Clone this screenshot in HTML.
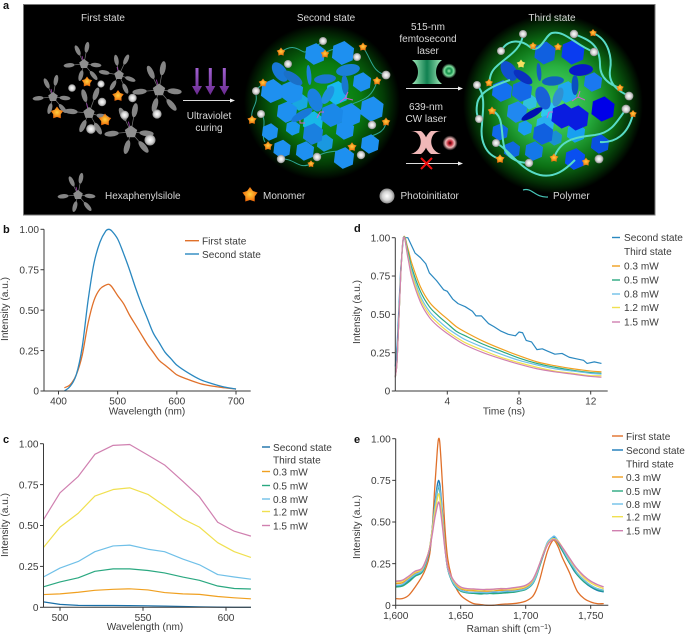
<!DOCTYPE html>
<html lang="en">
<head>
<meta charset="utf-8">
<title>Hexaphenylsilole photopolymerization figure</title>
<style>
html,body{margin:0;padding:0;background:#fff;width:685px;height:634px;overflow:hidden}
svg{display:block;font-family:"Liberation Sans",Arial,sans-serif}
.ct{font-size:10.1px;fill:#3a3a3a}
.ill{font-size:10px;fill:#d8d8d8}
.lab{font-size:11px;font-weight:bold;fill:#111}
</style>
</head>
<body>
<svg id="fig" xmlns="http://www.w3.org/2000/svg" width="685" height="634" viewBox="0 0 685 634">
<defs>
<radialGradient id="glow2"><stop offset="0" stop-color="#12a020"/><stop offset=".5" stop-color="#0a7a10"/><stop offset=".8" stop-color="#033a05"/><stop offset="1" stop-color="#000"/></radialGradient>
<radialGradient id="glow3"><stop offset="0" stop-color="#50e070"/><stop offset=".42" stop-color="#28b040"/><stop offset=".7" stop-color="#0c7014"/><stop offset=".9" stop-color="#032a05"/><stop offset="1" stop-color="#000"/></radialGradient>
<radialGradient id="ball"><stop offset="0" stop-color="#fff"/><stop offset=".6" stop-color="#d4d4d4"/><stop offset="1" stop-color="#8a8a8a"/></radialGradient>
<radialGradient id="starfill"><stop offset="0" stop-color="#ffd040"/><stop offset="1" stop-color="#f06a08"/></radialGradient>
<linearGradient id="uvfill" x1="0" y1="0" x2="0" y2="1"><stop offset="0" stop-color="#a060d0"/><stop offset="1" stop-color="#6a2a90"/></linearGradient>
<radialGradient id="greenring"><stop offset="0" stop-color="#a0e8b0"/><stop offset=".35" stop-color="#109048"/><stop offset=".65" stop-color="#80e0a0"/><stop offset="1" stop-color="#000"/></radialGradient>
<radialGradient id="redring"><stop offset="0" stop-color="#300"/><stop offset=".25" stop-color="#c02030"/><stop offset=".6" stop-color="#f0b8b8"/><stop offset="1" stop-color="#000"/></radialGradient>
<linearGradient id="greenbeam" x1="0" y1="0" x2="1" y2="0"><stop offset="0" stop-color="#a0e8b8"/><stop offset=".5" stop-color="#108050"/><stop offset="1" stop-color="#a0e8b8"/></linearGradient>
</defs>

<rect width="685" height="634" fill="#fff"/>

<g id="panel-a">
  <rect x="23.5" y="4.5" width="631.5" height="210.5" fill="#000" stroke="#777" stroke-width="1"/>
  <circle cx="322" cy="102" r="78" fill="url(#glow2)"/>
  <circle cx="553" cy="104" r="90" fill="url(#glow3)"/>
  <g id="mols"></g>
  <g id="second-poly" fill="none" stroke="#2fa898" stroke-width="1">
    <path d="M281,52 C295,42 300,52 305,52 C312,50 318,45 323,41"/><path d="M325,54 C328,50 335,48 340,50"/><path d="M363,47 C372,60 372,72 386,75"/><path d="M377,81 C372,100 360,100 350,105"/><path d="M263,83 C260,88 256,88 256,91"/><path d="M256,95 C258,105 250,108 252,120"/><path d="M261,114 C268,120 260,135 265,142"/><path d="M386,122 C385,135 370,135 362,140"/><path d="M281,159 C295,158 298,170 311,164"/><path d="M317,157 C325,150 340,152 345,150"/>
  </g>
  <g id="second-hex"></g>
  <g id="third-hex"></g>
  <g id="third-poly" fill="none" stroke="#58dcc8" stroke-width="2">
    <path d="M523,34 C522,50 505,58 497,66 C490,72 490,78 489,84"/><path d="M501,51 C508,38 522,40 530,47 C540,55 545,35 552,33 C565,30 575,45 594,52"/><path d="M593,33 C610,40 612,60 610,70 C608,85 620,92 629,96"/><path d="M574,34 C590,40 600,45 600,65 C600,78 610,85 620,88"/><path d="M477,85 C487,95 482,115 482,125 C480,140 485,155 500,159"/><path d="M510,80 C495,85 478,92 477,105 C476,112 477,116 479,119"/><path d="M492,111 C505,115 500,135 505,150 C510,160 520,163 529,163"/><path d="M496,143 C510,150 520,170 540,175 C555,178 565,170 575,160"/><path d="M554,158 C560,140 575,137 595,135 C610,133 615,125 626,109"/><path d="M600,142 C615,143 628,135 633,114"/>
  </g>
  <g id="balls"></g>
  <g id="stars"></g>

  <g fill="url(#uvfill)">
    <path d="M195.5,68 h3 v18 h3.5 l-5,9 l-5,-9 h3.5 z"/><path d="M208.8,68 h3 v18 h3.5 l-5,9 l-5,-9 h3.5 z"/><path d="M222.8,68 h3 v18 h3.5 l-5,9 l-5,-9 h3.5 z"/>
  </g>
  <g stroke="#ddd" stroke-width="1" fill="#eee">
    <path d="M183,100.5 H231"/><path d="M235,100.5 l-5,-2 v4 z" stroke="none"/>
    <path d="M406,88.5 H458"/><path d="M463,88.5 l-5,-2 v4 z" stroke="none"/>
    <path d="M406,163.5 H458"/><path d="M463,163.5 l-5,-2 v4 z" stroke="none"/>
  </g>
  <path d="M412,60 H442 C434,66 434,78 442,84 H412 C420,78 420,66 412,60 Z" fill="url(#greenbeam)"/>
  <circle cx="449" cy="71" r="7.5" fill="url(#greenring)"/>
  <path d="M411,131 C423,131 425,150 411,154 H421 C429,148 429,137 421,131 Z" fill="#f0b8b8"/>
  <path d="M441,131 C429,131 427,150 441,154 H431 C423,148 423,137 431,131 Z" fill="#f0b8b8"/>
  <circle cx="450" cy="143" r="7.5" fill="url(#redring)"/>
  <path d="M421,158 L432,169 M432,158 L421,169" stroke="#f01010" stroke-width="2" fill="none"/>
  <path d="M523,190 C532,187 535,198 548,197" fill="none" stroke="#48c8b8" stroke-width="1.2"/>

  <text class="ill" x="103" y="21" text-anchor="middle">First state</text>
  <text class="ill" x="326" y="21" text-anchor="middle">Second state</text>
  <text class="ill" x="552" y="21" text-anchor="middle">Third state</text>
  <text class="ill" x="209" y="119" text-anchor="middle">Ultraviolet</text>
  <text class="ill" x="209" y="131" text-anchor="middle">curing</text>
  <text class="ill" x="428" y="30" text-anchor="middle">515-nm</text>
  <text class="ill" x="428" y="42" text-anchor="middle">femtosecond</text>
  <text class="ill" x="428" y="54" text-anchor="middle">laser</text>
  <text class="ill" x="426" y="110" text-anchor="middle">639-nm</text>
  <text class="ill" x="426" y="122" text-anchor="middle">CW laser</text>
  <text class="ill" x="105" y="199">Hexaphenylsilole</text>
  <text class="ill" x="263" y="199">Monomer</text>
  <text class="ill" x="400.5" y="199">Photoinitiator</text>
  <text class="ill" x="553" y="199">Polymer</text>
</g>

<text class="lab" x="3" y="9">a</text>
<text class="lab" x="3" y="233">b</text>
<text class="lab" x="3" y="443">c</text>
<text class="lab" x="354" y="232">d</text>
<text class="lab" x="354" y="443">e</text>

<g id="chart-b"></g>
<g id="chart-c"></g>
<g id="chart-d"></g>
<g id="chart-e"></g>

<text class="ct" x="147" y="414.5" text-anchor="middle">Wavelength (nm)</text>
<text class="ct" transform="translate(8,309) rotate(-90)" text-anchor="middle">Intensity (a.u.)</text>
<text class="ct" x="145" y="630" text-anchor="middle">Wavelength (nm)</text>
<text class="ct" transform="translate(8,525) rotate(-90)" text-anchor="middle">Intensity (a.u.)</text>
<text class="ct" x="504" y="414.5" text-anchor="middle">Time (ns)</text>
<text class="ct" transform="translate(360,312) rotate(-90)" text-anchor="middle">Intensity (a.u.)</text>
<text class="ct" x="509" y="632" text-anchor="middle">Raman shift (cm<tspan dy="-3" font-size="7">−1</tspan><tspan dy="3">)</tspan></text>
<text class="ct" transform="translate(360,527) rotate(-90)" text-anchor="middle">Intensity (a.u.)</text>

<g stroke-width="1.4">
  <path d="M185,240.7 H199" stroke="#e0702a"/><text class="ct" x="202" y="244.5">First state</text>
  <path d="M185,254 H199" stroke="#2a88c0"/><text class="ct" x="202" y="258">Second state</text>
</g>
<g stroke-width="1.4">
  <path d="M262,447 H270" stroke="#1a70a8"/><text class="ct" x="273" y="451">Second state</text>
  <text class="ct" x="273" y="463.5">Third state</text>
  <path d="M262,471.5 H270" stroke="#f0a020"/><text class="ct" x="273" y="475.5">0.3 mW</text>
  <path d="M262,485.5 H270" stroke="#2aa880"/><text class="ct" x="273" y="489.5">0.5 mW</text>
  <path d="M262,499 H270" stroke="#70c0e8"/><text class="ct" x="273" y="503">0.8 mW</text>
  <path d="M262,511.5 H270" stroke="#f0e050"/><text class="ct" x="273" y="515.5">1.2 mW</text>
  <path d="M262,525.5 H270" stroke="#d080b0"/><text class="ct" x="273" y="529.5">1.5 mW</text>
</g>
<g stroke-width="1.4">
  <path d="M612,237.5 H620" stroke="#2a88c0"/><text class="ct" x="624" y="241">Second state</text>
  <text class="ct" x="624" y="255">Third state</text>
  <path d="M612,266 H620" stroke="#f0a020"/><text class="ct" x="624" y="269.5">0.3 mW</text>
  <path d="M612,280 H620" stroke="#2aa880"/><text class="ct" x="624" y="283.5">0.5 mW</text>
  <path d="M612,294 H620" stroke="#70c0e8"/><text class="ct" x="624" y="297.5">0.8 mW</text>
  <path d="M612,307.5 H620" stroke="#f0e050"/><text class="ct" x="624" y="311">1.2 mW</text>
  <path d="M612,322 H620" stroke="#d080b0"/><text class="ct" x="624" y="325.5">1.5 mW</text>
</g>
<g stroke-width="1.4">
  <path d="M612,436 H623" stroke="#e0702a"/><text class="ct" x="626" y="440">First state</text>
  <path d="M612,450 H623" stroke="#1a7ab8"/><text class="ct" x="626" y="454">Second state</text>
  <text class="ct" x="626" y="467.5">Third state</text>
  <path d="M612,477 H623" stroke="#f0a020"/><text class="ct" x="626" y="481">0.3 mW</text>
  <path d="M612,491 H623" stroke="#2aa880"/><text class="ct" x="626" y="495">0.5 mW</text>
  <path d="M612,504 H623" stroke="#70c0e8"/><text class="ct" x="626" y="508">0.8 mW</text>
  <path d="M612,516.7 H623" stroke="#f0e050"/><text class="ct" x="626" y="520.7">1.2 mW</text>
  <path d="M612,530.7 H623" stroke="#d080b0"/><text class="ct" x="626" y="534.7">1.5 mW</text>
</g>
</svg>

<script>
const intensityTicks = [0, 0.25, 0.5, 0.75, 1];
const intensityTickLabels = ['0', '0.25', '0.50', '0.75', '1.00'];

const bXTicks = [400, 500, 600, 700];
const bWavelengths = [410,420,430,440,450,460,470,480,485,490,500,510,520,530,540,550,560,570,580,590,600,620,640,660,680,700];
const bFirstState = [.02,.04,.1,.22,.42,.56,.63,.655,.66,.645,.59,.54,.47,.41,.35,.29,.24,.19,.16,.13,.1,.07,.045,.03,.02,.012];
const bSecondState = [0,.03,.1,.27,.56,.79,.92,.99,1,.99,.94,.85,.75,.64,.54,.45,.36,.3,.24,.2,.16,.11,.07,.045,.025,.012];

const cXTicks = [500, 550, 600];
const cWavelengths = [490,500,511,521,532,542,553,563,574,584,595,605,615];
const cSecondState = [.033,.018,.012,.011,.011,.01,.009,.007,.005,.003,.001,0,0];
const c03 = [.078,.082,.092,.104,.11,.113,.106,.09,.082,.079,.066,.058,.052];
const c05 = [.125,.155,.18,.22,.235,.235,.225,.21,.185,.165,.13,.115,.112];
const c08 = [.185,.24,.28,.34,.375,.38,.355,.34,.295,.26,.2,.185,.172];
const c12 = [.365,.49,.575,.68,.72,.73,.69,.62,.54,.49,.395,.34,.305];
const c15 = [.535,.7,.8,.935,.99,.995,.93,.87,.77,.675,.52,.465,.435];

const dXTicks = [4, 8, 12];
const dSecondTimes = [1.1,1.2,1.4,1.55,1.8,2,2.2,2.5,2.8,3,3.4,3.8,4,4.3,4.6,5,5.4,5.6,5.9,6.3,6.6,7,7.4,7.8,8,8.2,8.4,8.7,9,9.3,9.6,10,10.4,10.8,11.2,11.6,11.8,12.2,12.6];
const dSecondState = [.16,.3,.8,1,1,.95,.9,.87,.83,.77,.72,.66,.65,.6,.57,.55,.52,.49,.49,.44,.42,.39,.37,.36,.385,.38,.33,.32,.27,.275,.26,.24,.245,.22,.21,.2,.18,.19,.18];
const dThirdTimes = [1.1,1.2,1.4,1.55,1.8,2,2.5,3,3.5,4,4.5,5,6,7,8,9,10,11,12,12.6];
const d03 = [.09,.2,.75,1,.93,.84,.68,.58,.52,.47,.42,.385,.325,.275,.23,.19,.165,.145,.13,.125];
const d05 = [.09,.2,.75,1,.91,.81,.65,.55,.49,.44,.39,.36,.305,.26,.215,.18,.155,.135,.12,.115];
const d08 = [.09,.2,.75,1,.89,.79,.62,.52,.46,.41,.37,.335,.285,.24,.2,.17,.145,.13,.115,.11];
const d12 = [.09,.2,.75,1,.88,.77,.6,.5,.44,.39,.35,.315,.265,.22,.185,.155,.13,.115,.1,.1];
const d15 = [.09,.2,.75,1,.87,.75,.58,.48,.42,.375,.335,.3,.25,.21,.175,.145,.125,.11,.095,.09];

const eXTicks = [1600, 1650, 1700, 1750];
const eXTickLabels = ['1,600', '1,650', '1,700', '1,750'];
const eShift = [1600,1605,1610,1615,1620,1623,1626,1628,1630,1632,1633,1634,1636,1638,1640,1643,1646,1650,1655,1660,1665,1670,1675,1680,1685,1690,1695,1700,1705,1708,1711,1714,1717,1720,1722,1725,1728,1731,1734,1737,1740,1745,1750,1755,1760];
const eFirstState = [.04,.04,.06,.11,.17,.22,.3,.45,.7,.93,1,.97,.72,.45,.28,.17,.11,.06,.03,.01,.005,0,0,.005,.008,.01,.015,.025,.05,.09,.16,.25,.33,.38,.39,.35,.29,.24,.19,.13,.08,.04,.02,.01,.01];
const eSecondState = [.115,.12,.15,.18,.2,.25,.33,.45,.6,.72,.75,.72,.55,.35,.22,.15,.11,.09,.08,.072,.075,.07,.075,.072,.08,.078,.09,.1,.13,.18,.25,.32,.38,.4,.41,.37,.33,.29,.25,.21,.18,.14,.11,.09,.08];
const e03 = [.13,.135,.16,.19,.21,.26,.34,.45,.58,.69,.72,.69,.53,.35,.23,.16,.125,.1,.09,.088,.085,.085,.085,.09,.09,.09,.095,.105,.135,.18,.25,.32,.37,.39,.395,.37,.335,.3,.26,.22,.19,.15,.12,.1,.09];
const e05 = [.11,.115,.14,.175,.195,.245,.33,.44,.58,.68,.71,.68,.52,.34,.22,.15,.11,.085,.075,.072,.068,.072,.07,.072,.075,.078,.085,.095,.125,.17,.24,.31,.37,.39,.4,.375,.335,.29,.25,.215,.18,.14,.115,.095,.085];
const e08 = [.12,.125,.155,.185,.205,.255,.34,.45,.58,.69,.72,.69,.53,.34,.22,.155,.115,.09,.08,.078,.078,.076,.08,.08,.085,.085,.09,.1,.13,.175,.25,.32,.38,.405,.415,.385,.345,.3,.26,.225,.19,.15,.12,.1,.09];
const e12 = [.14,.145,.17,.2,.215,.265,.34,.44,.55,.64,.67,.64,.5,.34,.23,.165,.13,.105,.095,.095,.09,.095,.095,.1,.1,.1,.105,.115,.145,.19,.255,.32,.37,.395,.4,.385,.35,.315,.275,.24,.21,.165,.135,.115,.1];
const e15 = [.145,.15,.175,.205,.22,.265,.335,.42,.52,.595,.62,.595,.47,.33,.23,.17,.135,.11,.1,.098,.095,.095,.097,.1,.1,.105,.11,.12,.15,.195,.255,.315,.365,.39,.395,.38,.35,.315,.28,.245,.215,.175,.145,.125,.11];

const NS = 'http://www.w3.org/2000/svg';
function make(parent, tag, attrs, text) {
  const el = document.createElementNS(NS, tag);
  for (const k in attrs) el.setAttribute(k, attrs[k]);
  if (text !== undefined) el.textContent = text;
  parent.appendChild(el);
  return el;
}
function linearScale(d0, d1, r0, r1) {
  return function (v) { return r0 + (v - d0) * (r1 - r0) / (d1 - d0); };
}
function drawAxes(g, prefix, x, y, xTicks, xLabels, yTicks, yLabels, left, right, bottom, top) {
  const xAxis = make(g, 'path', {d: 'M' + left + ',' + bottom + ' H' + right, stroke: '#3a3a3a', fill: 'none', 'stroke-width': 1});
  
  
  const yAxis = make(g, 'path', {d: 'M' + left + ',' + top + ' V' + bottom, stroke: '#3a3a3a', fill: 'none', 'stroke-width': 1});
  
  
  xTicks.forEach(function (t, i) {
    const tick = make(g, 'path', {d: 'M' + x(t) + ',' + bottom + ' v3.5', stroke: '#3a3a3a', 'stroke-width': 1});
    
    
    const label = make(g, 'text', {x: x(t), y: bottom + 13.5, 'text-anchor': 'middle', class: 'ct'}, xLabels[i]);
    
    
  });
  yTicks.forEach(function (t, i) {
    const tick = make(g, 'path', {d: 'M' + (left - 3.5) + ',' + y(t) + ' h3.5', stroke: '#3a3a3a', 'stroke-width': 1});
    
    
    const label = make(g, 'text', {x: left - 5, y: y(t) + 3.7, 'text-anchor': 'end', class: 'ct'}, yLabels[i]);
    
    
  });
}
function polyPath(pts) {
  return pts.map(function (p, i) { return (i ? 'L' : 'M') + p[0].toFixed(2) + ',' + p[1].toFixed(2); }).join(' ');
}
function smoothPath(pts) {
  let d = 'M' + pts[0][0].toFixed(2) + ',' + pts[0][1].toFixed(2);
  for (let i = 0; i < pts.length - 1; i++) {
    const p0 = pts[Math.max(i - 1, 0)], p1 = pts[i], p2 = pts[i + 1], p3 = pts[Math.min(i + 2, pts.length - 1)];
    const dx = p2[0] - p1[0];
    const m1 = (p2[1] - p0[1]) / Math.max(p2[0] - p0[0], 0.001);
    const m2 = (p3[1] - p1[1]) / Math.max(p3[0] - p1[0], 0.001);
    d += ' C' + (p1[0] + dx / 3).toFixed(2) + ',' + (p1[1] + m1 * dx / 3).toFixed(2) + ' ' + (p2[0] - dx / 3).toFixed(2) + ',' + (p2[1] - m2 * dx / 3).toFixed(2) + ' ' + p2[0].toFixed(2) + ',' + p2[1].toFixed(2);
  }
  return d;
}
function drawSeries(g, name, xs, ys, x, y, color, width, smooth) {
  const pts = xs.map(function (v, i) { return [x(v), y(ys[i])]; });
  const line = make(g, 'path', {d: smooth ? smoothPath(pts) : polyPath(pts), fill: 'none', stroke: color, 'stroke-width': width, 'stroke-linejoin': 'round'});
  
  
}

(function chartB() {
  const g = document.getElementById('chart-b');
  const x = linearScale(400, 700, 58.5, 236);
  const y = linearScale(0, 1, 391, 229.3);
  drawSeries(g, 'b-line-first-state', bWavelengths, bFirstState, x, y, '#e0702a', 1.3, true);
  drawSeries(g, 'b-line-second-state', bWavelengths, bSecondState, x, y, '#2a88c0', 1.3, true);
  drawAxes(g, 'b', x, y, bXTicks, bXTicks.map(String), intensityTicks, intensityTickLabels, 44, 250.7, 391, 229.3);
})();
(function chartC() {
  const g = document.getElementById('chart-c');
  const x = linearScale(500, 600, 60, 226);
  const y = linearScale(0, 1, 607.3, 443.7);
  drawSeries(g, 'c-line-second-state', cWavelengths, cSecondState, x, y, '#1a70a8', 1.2);
  drawSeries(g, 'c-line-0-3-mw', cWavelengths, c03, x, y, '#f0a020', 1.2);
  drawSeries(g, 'c-line-0-5-mw', cWavelengths, c05, x, y, '#2aa880', 1.2);
  drawSeries(g, 'c-line-0-8-mw', cWavelengths, c08, x, y, '#70c0e8', 1.2);
  drawSeries(g, 'c-line-1-2-mw', cWavelengths, c12, x, y, '#f0e050', 1.2);
  drawSeries(g, 'c-line-1-5-mw', cWavelengths, c15, x, y, '#d080b0', 1.2);
  drawAxes(g, 'c', x, y, cXTicks, cXTicks.map(String), intensityTicks, intensityTickLabels, 43.5, 251, 607.3, 443.7);
})();
(function chartD() {
  const g = document.getElementById('chart-d');
  const x = linearScale(4, 12, 447.3, 590.7);
  const y = linearScale(0, 1, 391, 237.7);
  drawSeries(g, 'd-line-second-state', dSecondTimes, dSecondState, x, y, '#2a88c0', 1.2);
  drawSeries(g, 'd-line-0-3-mw', dThirdTimes, d03, x, y, '#f0a020', 1.2, true);
  drawSeries(g, 'd-line-0-5-mw', dThirdTimes, d05, x, y, '#2aa880', 1.2, true);
  drawSeries(g, 'd-line-0-8-mw', dThirdTimes, d08, x, y, '#70c0e8', 1.2, true);
  drawSeries(g, 'd-line-1-2-mw', dThirdTimes, d12, x, y, '#f0e050', 1.2, true);
  drawSeries(g, 'd-line-1-5-mw', dThirdTimes, d15, x, y, '#d080b0', 1.2, true);
  drawAxes(g, 'd', x, y, dXTicks, dXTicks.map(String), intensityTicks, intensityTickLabels, 395.3, 607.7, 391, 237.7);
})();
(function chartE() {
  const g = document.getElementById('chart-e');
  const x = linearScale(1600, 1750, 395.7, 590.7);
  const y = linearScale(0, 1, 605.3, 438.7);
  drawSeries(g, 'e-line-first-state', eShift, eFirstState, x, y, '#e0702a', 1.3, true);
  drawSeries(g, 'e-line-second-state', eShift, eSecondState, x, y, '#1a7ab8', 1.4, true);
  drawSeries(g, 'e-line-0-3-mw', eShift, e03, x, y, '#f0a020', 1.4, true);
  drawSeries(g, 'e-line-0-5-mw', eShift, e05, x, y, '#2aa880', 1.4, true);
  drawSeries(g, 'e-line-0-8-mw', eShift, e08, x, y, '#70c0e8', 1.4, true);
  drawSeries(g, 'e-line-1-2-mw', eShift, e12, x, y, '#f0e050', 1.4, true);
  drawSeries(g, 'e-line-1-5-mw', eShift, e15, x, y, '#d080b0', 1.4, true);
  drawAxes(g, 'e', x, y, eXTicks, eXTickLabels, intensityTicks, intensityTickLabels, 395.7, 608.3, 605.3, 438.7);
})();

/* Schematic artwork */
function polygonPoints(cx, cy, r, n, rot) {
  const pts = [];
  for (let i = 0; i < n; i++) {
    const a = rot + i * 2 * Math.PI / n;
    pts.push((cx + r * Math.cos(a)).toFixed(1) + ',' + (cy + r * Math.sin(a)).toFixed(1));
  }
  return pts.join(' ');
}
function hexagon(g, cx, cy, r, color, rot) {
  const h = make(g, 'polygon', {points: polygonPoints(cx, cy, r * 1.1, 6, rot === undefined ? Math.PI / 6 + 0.12 : rot), fill: color});
  
  
}
function shard(g, cx, cy, rx, ry, rot, color) {
  const s = make(g, 'ellipse', {cx: cx, cy: cy, rx: rx, ry: ry * 1.15, fill: color, transform: 'rotate(' + rot + ' ' + cx + ' ' + cy + ')'});
  
  
}
function ball(cx, cy, r) {
  const b = make(document.getElementById('balls'), 'circle', {cx: cx, cy: cy, r: r, fill: 'url(#ball)'});
  
  
}
function star(cx, cy, r, color) {
  const pts = [];
  for (let i = 0; i < 10; i++) {
    const a = -Math.PI / 2 + i * Math.PI / 5;
    const rr = i % 2 ? r * 0.62 : r;
    pts.push((cx + rr * Math.cos(a)).toFixed(1) + ',' + (cy + rr * Math.sin(a)).toFixed(1));
  }
  const s = make(document.getElementById('stars'), 'polygon', {points: pts.join(' '), fill: color || 'url(#starfill)'});
  
  
}
const armDirs = [[-80, 17], [-115, 15], [175, 15], [5, 12], [105, 12], [50, 15]];
function molecule(cx, cy, scale, rot) {
  const g = make(document.getElementById('mols'), 'g', {});
  
  
  armDirs.forEach(function (arm) {
    const a = (arm[0] + rot) * Math.PI / 180;
    const d = arm[1] * scale;
    const ex = cx + d * Math.cos(a);
    const ey = cy + d * Math.sin(a);
    make(g, 'line', {x1: cx, y1: cy, x2: ex, y2: ey, stroke: '#777', 'stroke-width': 0.7});
    make(g, 'ellipse', {cx: ex, cy: ey, rx: 5.5 * scale, ry: 2.2 * scale, fill: '#858585', transform: 'rotate(' + (arm[0] + rot) + ' ' + ex + ' ' + ey + ')'});
  });
  make(g, 'line', {x1: cx, y1: cy, x2: cx - 2 * scale, y2: cy - 8 * scale, stroke: '#a040b0', 'stroke-width': 0.8});
  make(g, 'polygon', {points: polygonPoints(cx, cy, 5 * scale, 5, -Math.PI / 2), fill: '#8e8e8e'});
}
molecule(84, 64, 1, 0);
molecule(119, 75, 1, 15);
molecule(53, 97, 1, 0);
molecule(159, 90, 1.3, 0);
molecule(89, 113, 1.2, 10);
molecule(131, 132, 1.3, 0);
molecule(78, 195, 1, 0);

const hg2 = document.getElementById('second-hex');
hexagon(hg2, 337, 93, 11, '#18b8f0');
hexagon(hg2, 300, 102, 8, '#18a8e0');
hexagon(hg2, 313, 122, 10, '#18b8e8');
hexagon(hg2, 272, 91, 11, '#1e90f0');
hexagon(hg2, 292, 92, 11, '#1e90f0');
hexagon(hg2, 287, 112, 10, '#1e90f0');
hexagon(hg2, 270, 132, 8, '#1e90f0');
hexagon(hg2, 282, 149, 8.5, '#1e90f0');
hexagon(hg2, 305, 151, 9, '#1e90f0');
hexagon(hg2, 315, 54, 10, '#1e90f0');
hexagon(hg2, 343, 53, 11, '#1e90f0');
hexagon(hg2, 362, 82, 9, '#1e90f0');
hexagon(hg2, 372, 109, 11.5, '#1e90f0');
hexagon(hg2, 370, 144, 9, '#1e90f0');
hexagon(hg2, 344, 158, 10, '#1e90f0');
hexagon(hg2, 345, 130, 9, '#1e90f0');
hexagon(hg2, 350, 115, 11, '#1e90f0');
hexagon(hg2, 332, 115, 11, '#1a88e8');
hexagon(hg2, 293, 128, 7, '#1a98f0');
hexagon(hg2, 325, 143, 8, '#1a98e0');
hexagon(hg2, 313, 134, 10, '#1a80e0');
shard(hg2, 280, 72, 11, 5.5, 55, '#1878d8');
shard(hg2, 293, 78, 11, 4, 35, '#1a70c8');
shard(hg2, 302, 115, 12, 3.5, -30, '#1878d8');
shard(hg2, 315, 100, 12, 6, 70, '#1a80e0');
shard(hg2, 328, 95, 10, 4, -60, '#2090e0');
shard(hg2, 348, 70, 12, 5, -10, '#1a80d8');
shard(hg2, 345, 85, 10, 3, 85, '#1878d0');
shard(hg2, 309, 75, 10, 2, 85, '#1a80e0');
shard(hg2, 325, 79, 11, 4, -5, '#1a78d0');
const pinkLines2 = make(hg2, 'path', {d: 'M345,98 L353,100 M345,98 L340,102 M345,98 L348,92 M320,112 L317,118 M320,112 L324,112 M300,120 V123 H305', fill: 'none', stroke: '#d060d0', 'stroke-width': 1});



const hg3 = document.getElementById('third-hex');
hexagon(hg3, 567, 92, 10, '#20a8f0');
hexagon(hg3, 530, 102, 7, '#30c0e0');
hexagon(hg3, 550, 112, 9, '#30c8f0');
hexagon(hg3, 545, 125, 9, '#28b0f0');
hexagon(hg3, 525, 128, 7, '#1a9cf0');
hexagon(hg3, 555, 138, 7, '#1a90d0');
hexagon(hg3, 502, 91, 10, '#1470f0');
hexagon(hg3, 522, 91, 10, '#1468e8');
hexagon(hg3, 517, 112, 10, '#2088f0');
hexagon(hg3, 500, 132, 8, '#1068e8');
hexagon(hg3, 512, 150, 8, '#1068e0');
hexagon(hg3, 534, 151, 9, '#1478e8');
hexagon(hg3, 545, 53, 10.5, '#1060e0');
hexagon(hg3, 573, 52, 11.5, '#0a3cf0');
hexagon(hg3, 593, 82, 9, '#1a78f0');
hexagon(hg3, 576, 133, 9, '#18a0f0');
hexagon(hg3, 603, 109, 11.5, '#0000e8');
hexagon(hg3, 600, 144, 9, '#0a50e0');
hexagon(hg3, 575, 159, 10, '#0a4ff0');
hexagon(hg3, 577, 118, 11.5, '#0a1ce0');
hexagon(hg3, 563, 116, 11.5, '#0a1ce0');
hexagon(hg3, 543, 134, 10, '#1060e0');
shard(hg3, 509, 71, 11, 6, 55, '#1050d0');
shard(hg3, 523, 77, 11, 4, 35, '#0a30c0');
shard(hg3, 581, 70, 12, 5, -5, '#0818c8');
shard(hg3, 575, 85, 10, 3, 90, '#0a50c0');
shard(hg3, 553, 81, 11, 4, -5, '#1060c0');
shard(hg3, 539, 72, 9, 2, 85, '#1458c8');
shard(hg3, 543, 98, 12, 6, 70, '#1860d8');
shard(hg3, 558, 97, 10, 4, -70, '#3090d0');
shard(hg3, 532, 114, 12, 3, -30, '#0010b0');
const pinkLines3 = make(hg3, 'path', {d: 'M578,97 L585,100 M578,97 L572,101 M578,97 L580,91 M549,112 L547,118 M549,112 L553,112', fill: 'none', stroke: '#d060d0', 'stroke-width': 1});



ball(72, 88, 3.8); ball(101, 84, 3.6); ball(102, 102, 4.2); ball(132.5, 98, 4.2); ball(124.5, 115, 4.4); ball(157, 114, 4.6); ball(91, 129, 4.8); ball(150, 140, 5.5);
ball(323, 41, 4); ball(357, 57, 4); ball(288, 64, 4); ball(386, 75, 4.4); ball(256, 91, 4); ball(261, 114, 4); ball(372, 125, 4.2); ball(317, 157, 4.2); ball(361, 155, 4.2); ball(281, 159, 4.2);
ball(523, 34, 4); ball(501, 51, 4); ball(574, 34, 4.2); ball(594, 52, 4.2); ball(477, 85, 4); ball(479, 119, 4); ball(496, 143, 4); ball(529, 163, 4.2); ball(599, 159, 4.4); ball(629, 96, 4.4); ball(626, 109, 4.4);
ball(387, 196, 7.5);

star(87, 82, 5.5); star(118, 96, 6); star(57, 113, 6.5); star(105, 120, 6.5); star(250, 195, 8);
star(281, 52, 4.5); star(325, 54, 4.5); star(363, 47, 4.5); star(377, 81, 4.5); star(263, 83, 4.5); star(252, 120, 4.8); star(386, 122, 4.5); star(268, 146, 4.8); star(352, 147, 4.8); star(311, 164, 3.8);
star(593, 33, 4); star(533, 46, 4); star(558, 47, 4.2); star(521, 64, 4.5, '#f8e060'); star(489, 83, 4.2); star(492, 111, 4.5); star(500, 159, 4.8); star(554, 158, 4.6); star(586, 162, 4.4); star(620, 88, 4); star(633, 114, 4);
</script>
</body>
</html>
